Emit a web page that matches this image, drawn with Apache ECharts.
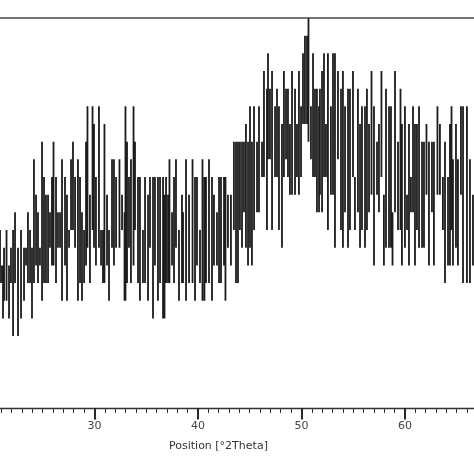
<!DOCTYPE html>
<html><head><meta charset="utf-8">
<style>html,body{margin:0;padding:0;background:#fff}#c{width:474px;height:474px}</style>
<script src="https://cdn.jsdelivr.net/npm/echarts@6/dist/echarts.min.js"></script>
</head><body><div id="c"></div>
<script>
const position = [20.88,21.07,21.17,21.27,21.51,21.75,21.94,22.14,22.33,22.62,22.91,23.2,23.39,23.58,23.78,23.97,24.16,24.36,24.55,24.74,24.94,25.13,25.32,25.52,25.71,25.9,26.05,26.29,26.48,26.68,26.87,27.16,27.35,27.55,27.74,27.93,28.13,28.41,
28.61,28.8,29.0,29.19,29.33,29.57,29.82,29.96,30.15,30.44,30.64,30.83,30.97,31.22,31.41,31.7,31.89,32.09,32.42,32.67,32.91,33.0,33.15,33.34,33.53,33.78,33.92,34.21,34.4,34.69,34.89,35.18,35.37,35.66,35.85,36.14,
36.34,36.63,36.77,36.92,37.11,37.25,37.5,37.69,37.88,38.17,38.46,38.56,38.85,39.14,39.48,39.72,39.91,40.2,40.44,40.63,40.78,41.07,41.36,41.55,41.84,42.04,42.23,42.52,42.66,42.9,43.19,43.48,43.68,43.87,
44.06,44.26,44.45,44.64,44.84,45.03,45.22,45.42,45.71,45.9,46.19,46.38,46.67,46.77,46.96,47.16,47.45,47.64,47.83,48.12,48.31,48.51,48.7,48.89,49.09,49.38,49.57,49.76,49.96,50.15,50.34,50.54,50.68,50.92,51.12,51.31,51.5,51.7,
51.79,51.99,52.18,52.37,52.56,52.85,53.05,53.24,53.53,53.82,54.01,54.21,54.5,54.69,54.98,55.17,55.46,55.66,55.85,56.14,56.33,56.53,56.77,57.01,57.3,57.49,57.73,57.97,58.17,58.46,58.65,58.8,59.04,59.33,
59.57,59.71,60.0,60.2,60.39,60.58,60.78,60.97,61.16,61.36,61.65,61.84,62.08,62.32,62.61,62.8,63.14,63.38,63.67,63.87,64.16,64.35,64.5,64.64,64.93,65.12,65.41,65.61,65.99,66.28,66.57];
const high = [6,4,4,5,6,4,5,6,7,5,6,5,5,7,6,5,10,8,7,5,11,9,8,8,7,9,11,9,7,7,10,9,8,6,10,11,9,10,
9,7,6,11,13,8,13,12,9,13,6,6,12,8,6,10,10,9,10,8,7,13,11,9,10,13,11,9,9,6,9,8,9,9,9,9,
9,9,8,9,8,10,7,9,10,6,8,7,10,8,10,9,9,6,10,9,9,10,9,8,7,9,9,9,9,8,8,11,11,11,
11,11,11,12,11,13,11,13,11,13,11,15,14,16,14,15,13,14,13,12,15,14,14,12,15,14,12,15,13,16,17,17,18,13,16,14,14,13,
14,15,16,12,16,13,16,16,15,14,15,13,14,14,15,9,14,12,13,13,14,12,15,13,11,12,15,8,14,13,13,7,15,11,
14,12,13,8,12,9,13,12,12,13,11,11,12,11,11,11,13,12,9,11,9,12,13,10,12,10,13,13,13,10,8];
const low = [3,3,1,2,2,1,3,0,3,0,1,2,4,3,3,1,3,4,3,4,2,3,3,3,5,4,4,3,5,5,2,4,2,5,6,6,5,2,
3,2,3,4,5,3,6,5,4,5,4,3,3,4,2,5,4,5,5,6,2,2,3,5,3,4,6,3,2,3,3,2,5,1,4,2,
3,1,1,3,3,3,4,3,5,2,3,3,2,3,3,2,4,3,2,2,3,3,2,4,4,3,3,4,2,5,4,6,3,3,
6,5,7,5,4,5,4,6,7,7,9,9,6,10,10,6,9,9,6,5,9,10,9,8,8,8,9,8,9,12,12,12,11,10,9,9,7,7,
8,7,9,9,6,8,8,5,10,6,5,7,5,6,9,6,7,5,6,5,6,7,8,4,8,7,9,4,5,5,5,4,7,6,
6,4,5,6,4,7,7,4,6,5,5,5,8,4,7,4,8,8,6,3,4,4,6,4,5,4,8,3,3,3,4];
const axisTicks = [30,40,50,60];
const axisTitle = 'Position [°2Theta]';
const topLevel = 18;

const trace = [];
position.forEach((p,i)=>{ trace.push([p,high[i]]); trace.push([p,low[i]]); trace.push([p,'-']); });

const chart = echarts.init(document.getElementById('c'),null,{renderer:'canvas'});
chart.setOption({
  animation:false,
  backgroundColor:'#fff',
  title:{text:axisTitle,left:169,top:441,padding:0,textStyle:{fontFamily:'DejaVu Sans',fontSize:11,fontWeight:'normal',color:'#333'}},
  grid:{left:-9.1,width:486.5,top:18,height:390.5,containLabel:false,outerBoundsMode:'none'},
  xAxis:{
    type:'value',min:20,max:67,interval:10,position:'bottom',
    axisLine:{show:true,onZero:false,lineStyle:{color:'#333',width:1.3}},
    axisTick:{show:true,length:11,lineStyle:{color:'#111',width:1.8}},
    minorTick:{show:true,splitNumber:10,length:4.5,lineStyle:{color:'#333',width:1}},
    splitLine:{show:false},minorSplitLine:{show:false},
    axisLabel:{show:true,margin:12,color:'#444',fontFamily:'DejaVu Sans',fontSize:11,customValues:axisTicks}
  },
  yAxis:{type:'value',min:-4.1,max:18,show:false,splitLine:{show:false}},
  series:[{type:'line',data:trace,showSymbol:false,symbol:'none',smooth:false,clip:false,connectNulls:false,
    lineStyle:{color:'#1c1c1c',width:1.8,cap:'butt'},
    markLine:{silent:true,symbol:'none',animation:false,label:{show:false},
      lineStyle:{color:'#444',width:1.5,type:'solid'},data:[{yAxis:topLevel}]}}]
});
</script></body></html>
